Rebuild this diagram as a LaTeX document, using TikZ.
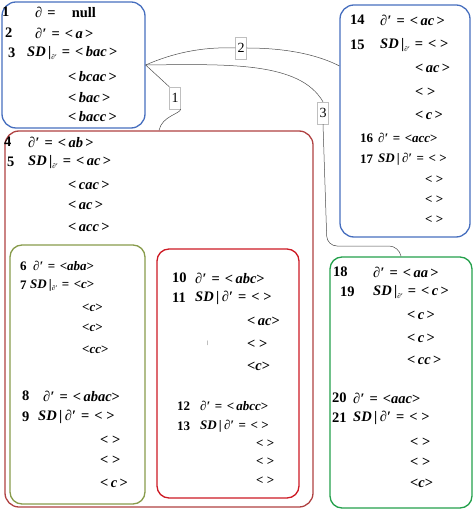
\documentclass[tikz,border=0pt]{standalone}
\usepackage{fontspec}
\setmainfont{Liberation Serif}
\usetikzlibrary{positioning}

\definecolor{boxblue}{RGB}{70,110,190}
\definecolor{boxbrown}{RGB}{175,65,65}
\definecolor{boxolive}{RGB}{135,155,75}
\definecolor{boxred}{RGB}{205,25,35}
\definecolor{boxgreen}{RGB}{35,160,75}

\newcommand{\dd}{\textit{∂′}}
\newcommand{\eq}{\hspace{0.35em}=\hspace{0.35em}}
\newcommand{\sdsub}{\textit{SD}\,|\raisebox{-0.45ex}{\scriptsize\textit{∂′}}}
\newcommand{\sdbar}{\textit{SD}\,|\,\textit{∂′}}
\newcommand{\sq}[1]{<\,\textit{#1}\,>}

\begin{document}
\begin{tikzpicture}[x=1pt,y=-1pt]
  \tikzstyle{frame}=[draw,line width=1.3pt,rounded corners=14pt,inner sep=0pt]
  \tikzstyle{txt}=[anchor=west,inner sep=0pt,font=\fontsize{14.5}{16}\selectfont\bfseries]
  \tikzstyle{smtxt}=[anchor=west,inner sep=0pt,font=\fontsize{13}{14}\selectfont\bfseries]
  \tikzstyle{tag}=[draw=gray!50,fill=white,inner sep=0.5pt,minimum width=11pt,minimum height=22pt,font=\fontsize{14}{14}\selectfont]
  \tikzstyle{link}=[draw=black!70,line width=0.5pt]

  \useasboundingbox (0,0) rectangle (474,510);

  \node[frame,boxblue,minimum width=143pt,minimum height=126pt]  (boxA) at (73.5,65) {};
  \node[frame,boxblue,minimum width=130pt,minimum height=232pt]  (boxE) at (405,121) {};
  \node[frame,boxbrown,minimum width=308pt,minimum height=376pt] (boxB) at (159,319) {};
  \node[frame,boxolive,rounded corners=12pt,minimum width=135pt,minimum height=259pt] (boxC) at (77.5,374.5) {};
  \node[frame,boxred,rounded corners=12pt,minimum width=142pt,minimum height=249pt]   (boxD) at (228,373.5) {};
  \node[frame,boxgreen,rounded corners=12pt,minimum width=142pt,minimum height=251pt] (boxG) at (401,382.5) {};

  \node[tag] (lbl1) at (175,98)  {1};
  \node[tag] (lbl2) at (241,48)  {2};
  \node[tag] (lbl3) at (323,113) {3};
  \coordinate (j3) at (399,246);

  \path[link] (boxA.east) -- (lbl1.north west);
  \path[link] (lbl1.south east) .. controls (180,114) and (162,116) .. (boxB.north);
  \path[link] (boxA.east) .. controls (180,50) and (210,47) .. (lbl2.west);
  \path[link] (lbl2.east) .. controls (290,48) and (320,56) .. (boxE.140);
  \path[link] (boxA.east) .. controls (230,64) and (300,62) .. (lbl3.north);
  \path[link,rounded corners=10pt] (lbl3.south) -- (327,246) -- (j3) -- (boxG.north);

  \node[txt] (n1) at (2,12) {1};
  \node[txt] (e1) at (35,12) {\textit{∂}\eq\hspace{11pt}null};
  \node[txt] (n2) at (5,33) {2};
  \node[txt] (e2) at (35,33) {\dd\eq\sq{a}};
  \node[txt] (n3) at (8,53) {3};
  \node[txt] (e3) at (27,53) {\sdsub\eq\sq{bac}};
  \foreach \y/\t [count=\i] in {77/bcac,98/bac,117/bacc}
    \node[txt] (a\i) at (68,\y) {\sq{\t}};

  \node[txt] (n4) at (4,142) {4};
  \node[txt] (e4) at (28,142) {\dd\eq\sq{ab}};
  \node[txt] (n5) at (7,162) {5};
  \node[txt] (e5) at (28,162) {\sdsub\eq\sq{ac}};
  \foreach \y/\t [count=\i] in {185/cac,205/ac,227/acc}
    \node[txt] (b\i) at (68,\y) {\sq{\t}};

  \node[smtxt] (n6) at (20,266) {6};
  \node[smtxt] (e6) at (33,266) {\dd\eq<\textit{aba}>};
  \node[smtxt] (n7) at (20,285) {7};
  \node[smtxt] (e7) at (30,285) {\sdsub\eq<\textit{c}>};
  \foreach \y/\t [count=\i] in {308/c,328/c,350/cc}
    \node[smtxt] (c\i) at (82,\y) {<\textit{\t}>};
  \node[txt] (n8) at (22,396) {8};
  \node[txt] (e8) at (43,396) {\dd\eq<\,\textit{abac}>};
  \node[txt] (n9) at (22,417) {9};
  \node[txt] (e9) at (38,417) {\sdbar\eq< >};
  \foreach \y/\t [count=\i] in {440/{< >},460/{< >},483/{<\,\textit{c}\,>}}
    \node[txt] (c\i') at (100,\y) {\t};

  \node[txt] (n10) at (172,278) {10};
  \node[txt] (e10) at (195,278) {\dd\eq<\,\textit{abc}>};
  \node[txt] (n11) at (172,298) {11};
  \node[txt] (e11) at (195,298) {\sdbar\eq< >};
  \foreach \y/\t [count=\i] in {321/{<\,\textit{ac}>},344/{< >},366/{<\textit{c}>}}
    \node[txt] (d\i) at (247,\y) {\t};
  \node[smtxt,font=\tiny] (tick) at (207,343) {|};
  \node[smtxt] (n12) at (177,406) {12};
  \node[smtxt] (e12) at (200,406) {\dd\eq<\,\textit{abcc}>};
  \node[smtxt] (n13) at (177,426) {13};
  \node[smtxt] (e13) at (200,426) {\sdbar\eq< >};
  \foreach \y [count=\i] in {444,462,481}
    \node[smtxt] (d\i') at (256,\y) {< >};

  \node[txt] (n14) at (350,20) {14};
  \node[txt] (e14) at (380,20) {\dd\eq<\,\textit{ac}\,>};
  \node[txt] (n15) at (350,45) {15};
  \node[txt] (e15) at (380,45) {\sdsub\eq< >};
  \foreach \y/\t [count=\i] in {68/{<\,\textit{ac}\,>},92/{< >},115/{<\,\textit{c}\,>}}
    \node[txt] (f\i) at (415,\y) {\t};
  \node[smtxt] (n16) at (360,138) {16};
  \node[smtxt] (e16) at (378,138) {\dd\eq<\textit{acc}>};
  \node[smtxt] (n17) at (360,159) {17};
  \node[smtxt] (e17) at (378,159) {\sdbar\eq< >};
  \foreach \y [count=\i] in {180,200,220}
    \node[smtxt] (f\i') at (425,\y) {< >};

  \node[txt] (n18) at (333,272) {18};
  \node[txt] (e18) at (373,272) {\dd\eq\sq{aa}};
  \node[txt] (n19) at (340,292) {19};
  \node[txt] (e19) at (373,292) {\sdsub\eq\sq{c}};
  \foreach \y/\t [count=\i] in {315/c,338/c,360/cc}
    \node[txt] (g\i) at (407,\y) {\sq{\t}};
  \node[txt] (n20) at (332,398) {20};
  \node[txt] (e20) at (353,398) {\dd\eq<\textit{aac}>};
  \node[txt] (n21) at (332,418) {21};
  \node[txt] (e21) at (353,418) {\sdbar\eq< >};
  \foreach \y/\t [count=\i] in {442/{< >},462/{< >},483/{<\textit{c}>}}
    \node[txt] (g\i') at (410,\y) {\t};
\end{tikzpicture}
\end{document}
